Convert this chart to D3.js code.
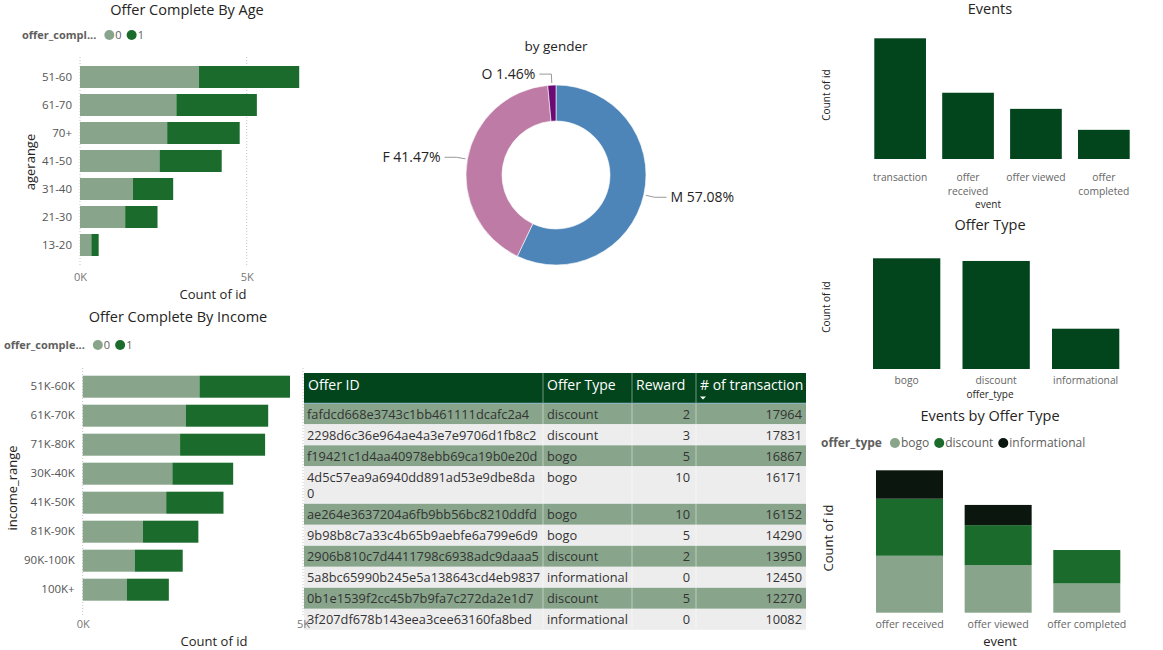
<!DOCTYPE html>
<html>
<head>
<meta charset="utf-8">
<title>Offers dashboard</title>
<script src="https://cdn.jsdelivr.net/npm/d3@7/dist/d3.min.js"></script>
<style>
  body { margin: 0; background: #fff; }
  svg { display: block; font-family: "Segoe UI", "Open Sans", sans-serif; }
</style>
</head>
<body>
<svg id="dash" width="1163" height="650"></svg>
<script>
// values

const ageRanges = ['51-60', '61-70', '70+', '41-50', '31-40', '21-30', '13-20'];
const ageNotCompleted = [3570, 2890, 2615, 2385, 1590, 1355, 340];
const ageCompleted = [3005, 2415, 2175, 1865, 1205, 970, 220];

const incomeRanges = ['51K-60K', '61K-70K', '71K-80K', '30K-40K', '41K-50K', '81K-90K', '90K-100K', '100K+'];
const incomeNotCompleted = [2650, 2340, 2210, 2035, 1895, 1365, 1180, 1005];
const incomeCompleted = [2055, 1870, 1930, 1380, 1300, 1260, 1090, 950];
const countTicks = [0, 5000];

const genders = ['M', 'F', 'O'];
const genderShare = [57.08, 41.47, 1.46];

const eventNames = ['transaction', 'offer received', 'offer viewed', 'offer completed'];
const eventTickLines = [['transaction'], ['offer', 'received'], ['offer viewed'], ['offer', 'completed']];
const eventCounts = [138953, 76277, 57725, 33579];

const offerTypes = ['bogo', 'discount', 'informational'];
const offerTypeCounts = [71617, 69898, 26066];

const stackEvents = ['offer received', 'offer viewed', 'offer completed'];
const stackBogo = [30499, 25449, 15669];
const stackDiscount = [30543, 21445, 17910];
const stackInformational = [15235, 10831, 0];

const tableIds = [
    'fafdcd668e3743c1bb461111dcafc2a4', '2298d6c36e964ae4a3e7e9706d1fb8c2',
    'f19421c1d4aa40978ebb69ca19b0e20d', '4d5c57ea9a6940dd891ad53e9dbe8da0',
    'ae264e3637204a6fb9bb56bc8210ddfd', '9b98b8c7a33c4b65b9aebfe6a799e6d9',
    '2906b810c7d4411798c6938adc9daaa5', '5a8bc65990b245e5a138643cd4eb9837',
    '0b1e1539f2cc45b7b9fa7c272da2e1d7', '3f207df678b143eea3cee63160fa8bed'];
const tableTypes = ['discount', 'discount', 'bogo', 'bogo', 'bogo', 'bogo', 'discount', 'informational', 'discount', 'informational'];
const tableRewards = [2, 3, 5, 10, 10, 5, 2, 0, 5, 0];
const tableTransactions = [17964, 17831, 16867, 16171, 16152, 14290, 13950, 12450, 12270, 10082];

const svg = d3.select('#dash');
const LIGHT = '#88a58b', GREEN = '#1b6b2c', DARK = '#02441c', BLACK = '#0b170e';
const INK = '#252423';

function title(x, y, text, size) {
    svg.append('text')
        .attr('x', x).attr('y', y)
        .attr('text-anchor', 'middle')
        .attr('font-size', size)
        .attr('fill', INK)
        .text(text);
}

function rotatedLabel(x, y, text, size) {
    svg.append('text')
        .attr('transform', `translate(${x},${y}) rotate(-90)`)
        .attr('text-anchor', 'middle')
        .attr('dy', '0.35em')
        .attr('font-size', size)
        .attr('fill', INK)
        .text(text);
}

function legend(x, y, name, keys, colors, size) {
    const g = svg.append('g').attr('font-size', size).attr('fill', '#605e5c');
    const t = g.append('text').attr('x', x).attr('y', y + 4).attr('font-weight', 'bold').text(name);
    let cx = x + t.node().getComputedTextLength() + 13;
    keys.forEach((k, i) => {
        g.append('circle').attr('cx', cx).attr('cy', y).attr('r', 5).attr('fill', colors[i]);
        const lt = g.append('text').attr('x', cx + 6).attr('y', y + 4).text(k);
        cx += 6 + lt.node().getComputedTextLength() + 10;
    });
}

function plainAxis(sel, size, color) {
    sel.attr('font-family', null).attr('font-size', size);
    sel.select('.domain').remove();
    sel.selectAll('text').attr('fill', color);
}

// ---- offer table (drawn first: the income axis label sits over its edge) ----
{
    const colX = [304, 543, 632, 696, 806];
    const headTop = 373, bodyTop = 403.3, lineH = 16.5, baseRow = 21;
    const bodySize = 12.8;
    const t = svg.append('g');

    // Offer ID cells wrap character by character when they run past the cell
    const measure = t.append('text').attr('font-size', bodySize).attr('visibility', 'hidden');
    function wrapChars(str, maxW) {
        const lines = [];
        let cur = '';
        for (const ch of str) {
            measure.text(cur + ch);
            if (cur && measure.node().getComputedTextLength() > maxW) {
                lines.push(cur);
                cur = ch;
            } else {
                cur += ch;
            }
        }
        lines.push(cur);
        return lines;
    }

    const rows = tableIds.map((id, i) => ({
        id: wrapChars(id, bodySize * 18.31),
        type: tableTypes[i], reward: tableRewards[i], trans: tableTransactions[i]
    }));
    let top = bodyTop;
    rows.forEach(r => {
        r.top = top;
        r.h = baseRow + (r.id.length - 1) * lineH;
        top += r.h;
    });

    // header
    t.append('rect').attr('x', colX[0]).attr('y', headTop)
        .attr('width', colX[4] - colX[0]).attr('height', bodyTop - headTop).attr('fill', DARK);
    const heads = ['Offer ID', 'Offer Type', 'Reward', '# of transaction'];
    t.selectAll('.head')
        .data(heads)
        .enter().append('text')
            .attr('x', (d, i) => colX[i] + 4)
            .attr('y', 390)
            .attr('font-size', 14)
            .attr('fill', '#fff')
            .text(d => d);
    t.append('path')
        .attr('d', `M${colX[3] + 4},396.5h6l-3,3z`)
        .attr('fill', '#fff');

    // body
    const row = t.selectAll('.row')
        .data(rows)
        .enter().append('g')
            .attr('transform', d => `translate(0,${d.top})`);
    row.append('rect')
        .attr('x', colX[0]).attr('width', colX[4] - colX[0])
        .attr('height', d => d.h)
        .attr('fill', (d, i) => i % 2 === 0 ? '#88a58b' : '#eeedee');
    const cell = row.append('g').attr('font-size', bodySize).attr('fill', '#333');
    cell.append('text')
        .attr('y', 15.5)
        .each(function(d) {
            d3.select(this).selectAll('tspan')
                .data(d.id)
                .enter().append('tspan')
                    .attr('x', colX[0] + 3)
                    .attr('dy', (l, j) => j ? lineH : 0)
                    .text(l => l);
        });
    cell.append('text').attr('x', colX[1] + 4).attr('y', 15.5).text(d => d.type);
    cell.append('text').attr('x', colX[3] - 6).attr('y', 15.5).attr('text-anchor', 'end').text(d => d.reward);
    cell.append('text').attr('x', colX[4] - 4).attr('y', 15.5).attr('text-anchor', 'end').text(d => d.trans);

    // column separators and header rule
    t.selectAll('.sep')
        .data(colX.slice(1, 4))
        .enter().append('line')
            .attr('x1', d => d).attr('x2', d => d)
            .attr('y1', headTop).attr('y2', top)
            .attr('stroke', '#fff').attr('stroke-opacity', 0.45);
    t.append('line')
        .attr('x1', colX[0]).attr('x2', colX[4])
        .attr('y1', bodyTop).attr('y2', bodyTop)
        .attr('stroke', '#8fb3bd').attr('stroke-width', 1.2);
}

// stacked horizontal bars, offer_completed 0 / 1
function completeBars(cfg) {
    const g = svg.append('g');
    const x = d3.scaleLinear().domain([0, 5000]).range(cfg.xRange);
    const y = d3.scaleBand().domain(cfg.cats).range(cfg.yRange).paddingInner(cfg.pad);
    const rows = cfg.cats.map((c, i) => ({cat: c, no: cfg.no[i], yes: cfg.yes[i]}));
    const stacked = d3.stack().keys(['no', 'yes'])(rows);

    g.selectAll('.grid')
        .data(countTicks)
        .enter().append('line')
            .attr('x1', d => x(d)).attr('x2', d => x(d))
            .attr('y1', cfg.gridY[0]).attr('y2', cfg.gridY[1])
            .attr('stroke', '#c8c6c4')
            .attr('stroke-dasharray', '1,2');

    g.selectAll('.layer')
        .data(stacked)
        .enter().append('g')
            .attr('fill', d => d.key === 'no' ? LIGHT : GREEN)
        .selectAll('rect')
        .data(d => d)
        .enter().append('rect')
            .attr('x', d => x(d[0]))
            .attr('width', d => x(d[1]) - x(d[0]))
            .attr('y', d => y(d.data.cat))
            .attr('height', y.bandwidth());

    g.append('g')
        .attr('transform', `translate(0,${cfg.tickY})`)
        .call(d3.axisBottom(x).tickValues(countTicks).tickSize(0).tickPadding(0)
            .tickFormat(d => d / 1000 + 'K'))
        .call(a => plainAxis(a, 11, '#777'));

    g.append('g')
        .attr('transform', `translate(${x(0)},0)`)
        .call(d3.axisLeft(y).tickSize(0).tickPadding(8))
        .call(a => plainAxis(a, 11.5, '#555'));
}

// ---- Offer Complete By Age ----
title(187, 15, 'Offer Complete By Age', 14.5);
legend(22, 35, 'offer_compl...', ['0', '1'], [LIGHT, GREEN], 11);
completeBars({
    cats: ageRanges, no: ageNotCompleted, yes: ageCompleted,
    xRange: [80, 246.7], yRange: [66, 256], pad: 0.214,
    gridY: [57, 267], tickY: 273
});
rotatedLabel(30, 162, 'agerange', 13);
svg.append('text').attr('x', 213).attr('y', 299).attr('text-anchor', 'middle')
    .attr('font-size', 13).attr('fill', INK).text('Count of id');

// ---- Offer Complete By Income ----
title(178, 322, 'Offer Complete By Income', 14.5);
legend(4, 345, 'offer_comple...', ['0', '1'], [LIGHT, GREEN], 11);
completeBars({
    cats: incomeRanges, no: incomeNotCompleted, yes: incomeCompleted,
    xRange: [82.7, 303], yRange: [375.7, 600.7], pad: 0.241,
    gridY: [368, 615], tickY: 620
});
rotatedLabel(12, 488, 'income_range', 13);
svg.append('text').attr('x', 214).attr('y', 646).attr('text-anchor', 'middle')
    .attr('font-size', 13).attr('fill', INK).text('Count of id');

// ---- by gender donut ----
title(556, 51, 'by gender', 13.5);
const genderColor = d3.scaleOrdinal().domain(genders).range(['#4e85b8', '#bd7ba6', '#6b0a74']);
const pie = d3.pie().sort(null).value(d => d.share);
const arc = d3.arc().innerRadius(54).outerRadius(90);
const slices = pie(genders.map((g, i) => ({g, share: genderShare[i]})));
const donut = svg.append('g').attr('transform', 'translate(556,175)');
donut.selectAll('path')
    .data(slices)
    .enter().append('path')
        .attr('d', arc)
        .attr('fill', d => genderColor(d.data.g))
        .attr('stroke', '#fff')
        .attr('stroke-width', 0.6);

slices.forEach(s => {
    const mid = (s.startAngle + s.endAngle) / 2;
    const side = Math.sin(mid) >= 0 ? 1 : -1;
    const p1 = [Math.sin(mid) * 92, -Math.cos(mid) * 92];
    const p2 = [Math.sin(mid) * 101, -Math.cos(mid) * 101];
    const p3 = [p2[0] + side * 12, p2[1]];
    donut.append('polyline')
        .attr('points', [p1, p2, p3].map(p => p.join(',')).join(' '))
        .attr('fill', 'none').attr('stroke', '#999').attr('stroke-width', 1);
    donut.append('text')
        .attr('x', p3[0] + side * 4).attr('y', p3[1])
        .attr('dy', '0.35em')
        .attr('text-anchor', side > 0 ? 'start' : 'end')
        .attr('font-size', 14).attr('fill', INK)
        .text(`${s.data.g} ${s.data.share.toFixed(2)}%`);
});

// ---- simple column charts ----
function columns(cfg) {
    const x = d3.scaleBand().domain(cfg.cats).range(cfg.xRange).paddingInner(cfg.pad);
    const y = d3.scaleLinear().domain([0, cfg.values[0]]).range(cfg.yRange);
    svg.append('g').selectAll('rect')
        .data(cfg.values)
        .enter().append('rect')
            .attr('x', (d, i) => x(cfg.cats[i]))
            .attr('width', x.bandwidth())
            .attr('y', d => y(d))
            .attr('height', d => y(0) - y(d))
            .attr('fill', DARK);
    svg.append('g').attr('font-size', 10.3).attr('fill', '#666').attr('text-anchor', 'middle')
        .selectAll('text')
        .data(cfg.cats)
        .enter().append('text')
            .attr('y', cfg.labelY)
            .each(function(c, i) {
                const cx = x(c) + x.bandwidth() / 2;
                d3.select(this).selectAll('tspan')
                    .data(cfg.lines[i])
                    .enter().append('tspan')
                        .attr('x', cx)
                        .attr('dy', (d, j) => j ? 14 : 0)
                        .text(d => d);
            });
}

title(990, 14, 'Events', 14.5);
columns({
    cats: eventNames, values: eventCounts, lines: eventTickLines,
    xRange: [874.3, 1129.7], pad: 0.239, yRange: [159, 38.3], labelY: 181
});
rotatedLabel(826, 95, 'Count of id', 10);
svg.append('text').attr('x', 988).attr('y', 208).attr('text-anchor', 'middle')
    .attr('font-size', 10).attr('fill', INK).text('event');

title(990, 230, 'Offer Type', 14.5);
columns({
    cats: offerTypes, values: offerTypeCounts, lines: offerTypes.map(d => [d]),
    xRange: [873, 1119.3], pad: 0.248, yRange: [369, 258.3], labelY: 384
});
rotatedLabel(826, 307, 'Count of id', 10);
svg.append('text').attr('x', 990).attr('y', 398).attr('text-anchor', 'middle')
    .attr('font-size', 10).attr('fill', INK).text('offer_type');

// ---- Events by Offer Type (stacked) ----
title(990, 421, 'Events by Offer Type', 14.5);
legend(821, 443, 'offer_type', offerTypes, [LIGHT, GREEN, BLACK], 12);
{
    const rows = stackEvents.map((e, i) => ({
        event: e, bogo: stackBogo[i], discount: stackDiscount[i], informational: stackInformational[i]
    }));
    const stacked = d3.stack().keys(offerTypes)(rows);
    const x = d3.scaleBand().domain(stackEvents).range([876, 1120.3]).paddingInner(0.244);
    const y = d3.scaleLinear().domain([0, d3.max(rows, r => r.bogo + r.discount + r.informational)])
        .range([612.7, 470.3]);
    const color = d3.scaleOrdinal().domain(offerTypes).range([LIGHT, GREEN, BLACK]);

    svg.append('g').selectAll('g')
        .data(stacked)
        .enter().append('g')
            .attr('fill', d => color(d.key))
        .selectAll('rect')
        .data(d => d)
        .enter().append('rect')
            .attr('x', d => x(d.data.event))
            .attr('width', x.bandwidth())
            .attr('y', d => y(d[1]))
            .attr('height', d => y(d[0]) - y(d[1]));

    svg.append('g')
        .attr('transform', 'translate(0,620)')
        .call(d3.axisBottom(x).tickSize(0).tickPadding(0))
        .call(a => plainAxis(a, 10.6, '#666'));
}
rotatedLabel(828, 538, 'Count of id', 13);
svg.append('text').attr('x', 1000).attr('y', 646).attr('text-anchor', 'middle')
    .attr('font-size', 13).attr('fill', INK).text('event');
</script>
</body>
</html>
